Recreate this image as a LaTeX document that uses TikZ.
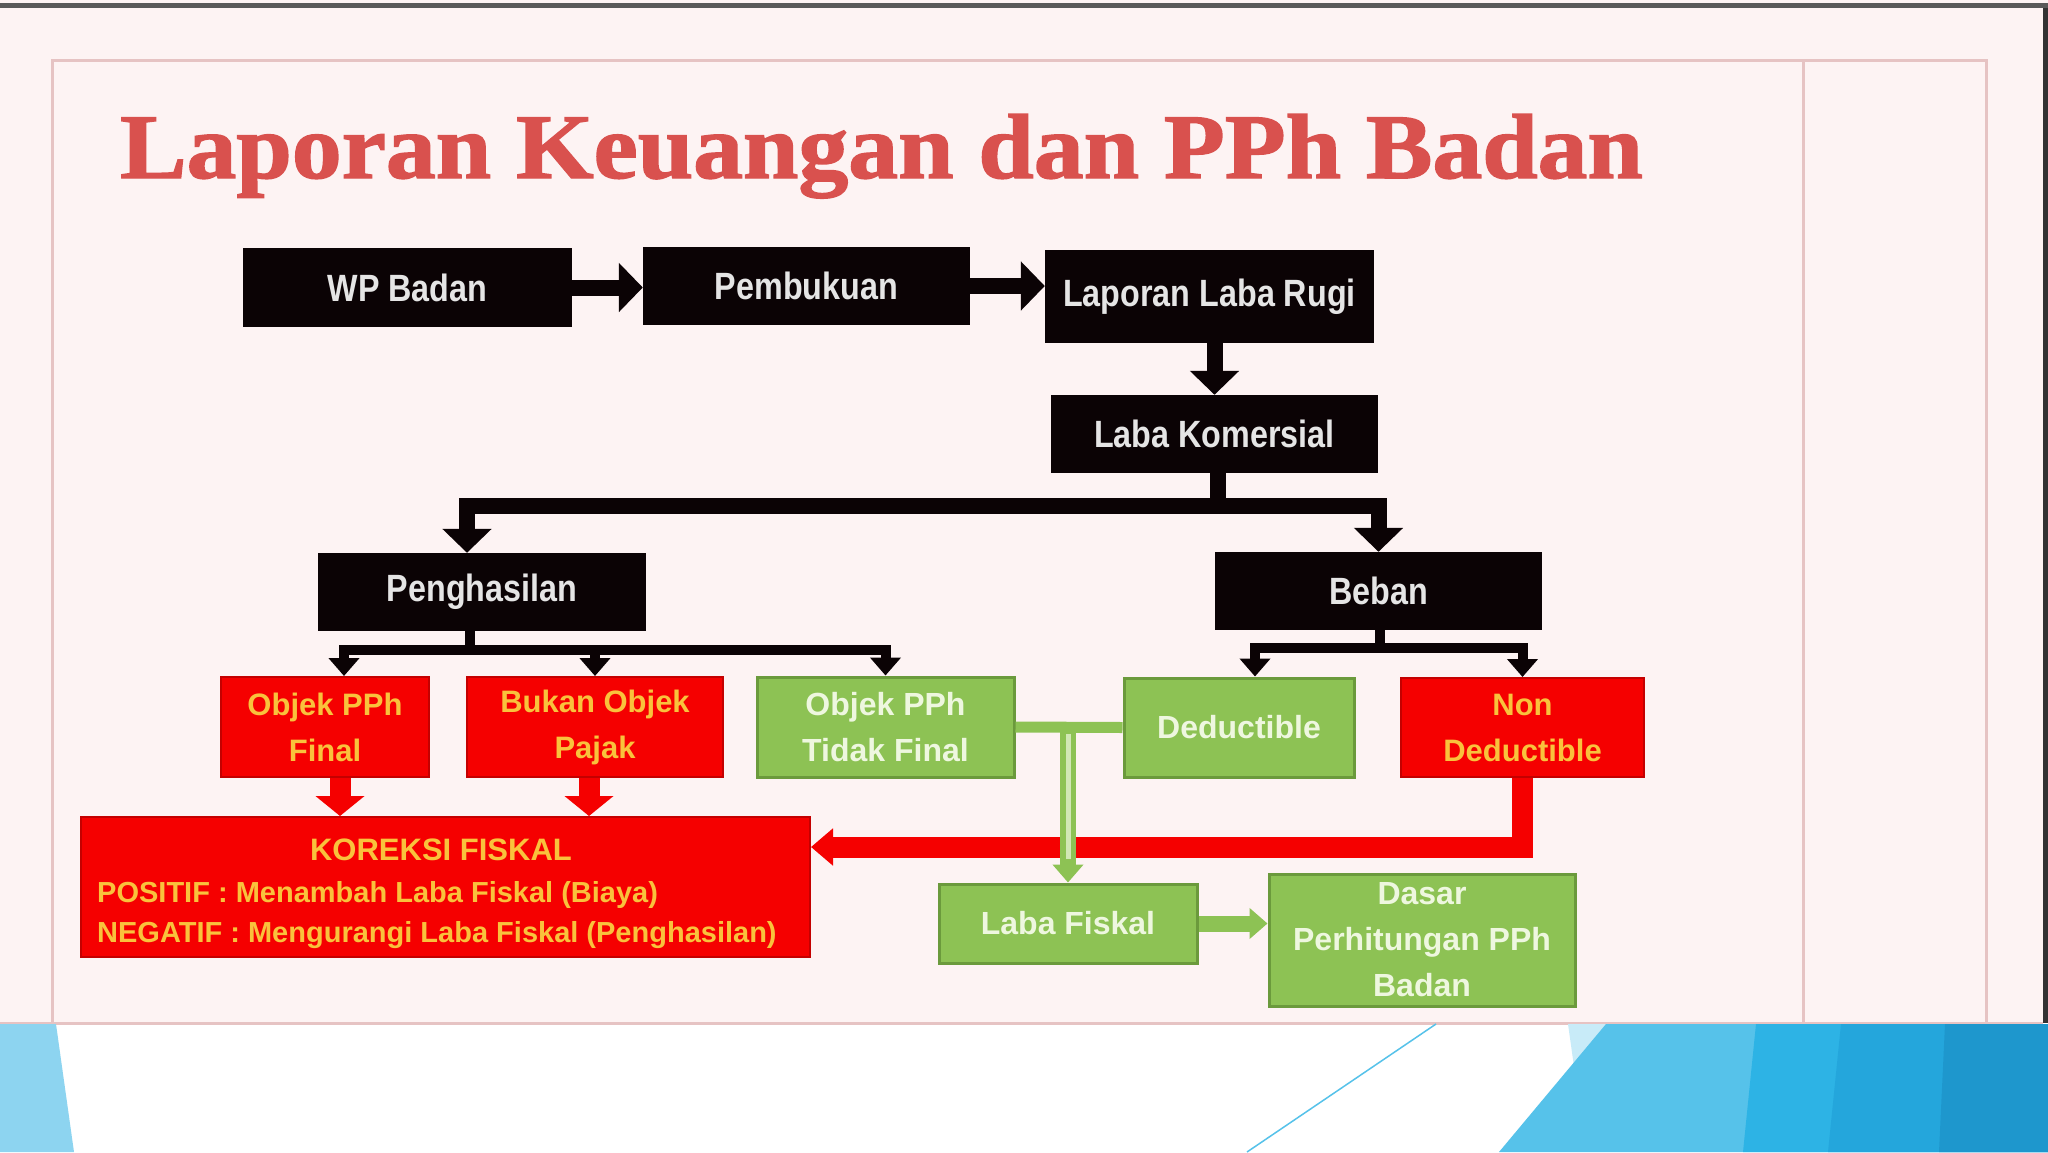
\documentclass[tikz,border=0pt]{standalone}
\usepackage{graphicx}
\usepackage{fontspec}
\setmainfont{Liberation Sans}
\newfontfamily\narrowfont[FakeStretch=0.85]{Liberation Sans}
\newfontfamily\titlefont[FakeBold=1.5]{Liberation Serif}
\usetikzlibrary{arrows.meta,positioning}
\definecolor{pagepink}{HTML}{FDF3F3}
\definecolor{framepink}{HTML}{E6C3C3}
\definecolor{titlered}{HTML}{D9514E}
\definecolor{boxblack}{HTML}{0B0305}
\definecolor{boxred}{HTML}{F50000}
\definecolor{edgered}{HTML}{C40000}
\definecolor{gold}{HTML}{F9C23C}
\definecolor{boxgreen}{HTML}{8DC254}
\definecolor{edgegreen}{HTML}{6B9A3C}
\definecolor{palegreen}{HTML}{EEF7DF}
\definecolor{skylight}{HTML}{8DD4F0}
\definecolor{skypale}{HTML}{C8EBF8}
\definecolor{skymid}{HTML}{56C2EA}
\definecolor{skydeep}{HTML}{2DB3E5}
\definecolor{skydeeper}{HTML}{24A6DC}
\definecolor{skydark}{HTML}{1E97CD}
\begin{document}
\begin{tikzpicture}[x=1pt,y=-1pt,
    blkbox/.style={fill=boxblack, text=white!90!black, inner sep=0pt,
        font=\narrowfont\bfseries\fontsize{38}{44}\selectfont},
    redbox/.style={fill=boxred, draw=edgered, line width=2pt, text=gold, inner sep=0pt,
        align=center, font=\bfseries\fontsize{31}{46}\selectfont},
    grnbox/.style={fill=boxgreen, draw=edgegreen, line width=3pt, text=palegreen, inner sep=0pt,
        align=center, font=\bfseries\fontsize{32}{46}\selectfont},
    blkarr/.style={draw=boxblack, line width=16pt, line join=miter, -{Triangle[width=48pt,length=24pt]}},
    blkthin/.style={draw=boxblack, line width=10pt, line join=miter, -{Triangle[width=30pt,length=18pt]}},
    redarr/.style={draw=boxred, line width=21pt, line join=miter, -{Triangle[width=48pt,length=20pt]}},
    redside/.style={draw=boxred, line width=21pt, line join=miter, -{Triangle[width=36pt,length=22pt]}},
    grnline/.style={draw=boxgreen, line width=11pt},
    grnarr/.style={draw=boxgreen, line width=16pt, -{Triangle[width=30pt,length=18pt]}}]
    \useasboundingbox (0,0) rectangle (2048,1152);
    \fill[pagepink] (0,0) rectangle (2048,1023);
    \fill[white] (0,1023) rectangle (2048,1152);
    \fill[black!65] (0,3) rectangle (2048,8);
    \fill[black!80] (2043,8) rectangle (2048,1023);
    \draw[framepink, line width=3pt] (52,1023) -- (52,60) -- (1986,60) -- (1986,1023);
    \draw[framepink, line width=3pt] (1803,60) -- (1803,1023);
    \draw[framepink, line width=3pt] (0,1023) -- (2043,1023);
    % blue corner shapes
    \fill[skylight] (0,1024) -- (56,1024) -- (74,1152) -- (0,1152) -- cycle;
    \draw[skymid, line width=1.5pt] (1436,1024) -- (1247,1152);
    \fill[skypale] (1568,1024) -- (1606,1024) -- (1578,1095) -- cycle;
    \fill[skymid] (1606,1024) -- (2048,1024) -- (2048,1152) -- (1499,1152) -- cycle;
    \fill[skydeep] (1756,1024) -- (2048,1024) -- (2048,1152) -- (1743,1152) -- cycle;
    \fill[skydeeper] (1841,1024) -- (2048,1024) -- (2048,1152) -- (1828,1152) -- cycle;
    \fill[skydark] (1945,1024) -- (2048,1024) -- (2048,1152) -- (1939,1152) -- cycle;

    \node[anchor=base west, text=titlered, inner sep=0pt] (title) at (120,178)
        {\resizebox{1522pt}{64pt}{\titlefont\bfseries Laporan Keuangan dan PPh Badan}};

    \node[blkbox, minimum width=329pt, minimum height=79pt] (wp) at (407.5,287.5) {WP Badan};
    \node[blkbox, minimum width=327pt, minimum height=78pt] (pemb) at (806.5,286) {Pembukuan};
    \node[blkbox, minimum width=329pt, minimum height=93pt] (llr) at (1209.5,296.5) {Laporan Laba Rugi};
    \node[blkbox, minimum width=327pt, minimum height=78pt] (lk) at (1214.5,434) {Laba Komersial};
    \node[blkbox, minimum width=328pt, minimum height=78pt] (peng) at (482,592) {Penghasilan};
    \node[blkbox, minimum width=327pt, minimum height=78pt] (beban) at (1378.5,591) {Beban};

    \node[redbox, minimum width=208pt, minimum height=100pt] (final) at (325,727) {Objek PPh\\Final};
    \node[redbox, minimum width=256pt, minimum height=100pt] (bukan) at (595,727) {Bukan Objek\\Pajak};
    \node[grnbox, minimum width=257pt, minimum height=100pt] (tidak) at (885.5,727) {Objek PPh\\Tidak Final};
    \node[grnbox, minimum width=230pt, minimum height=99pt] (deduct) at (1239,727.5) {Deductible};
    \node[redbox, minimum width=243pt, minimum height=99pt] (nondeduct) at (1522.5,727.5) {Non\\Deductible};

    \node[redbox, minimum width=729pt, minimum height=140pt] (koreksi) at (445.5,887) {};
    \node[text=gold, font=\bfseries\fontsize{31}{36}\selectfont, anchor=base] (kortitle) at (441,860) {KOREKSI FISKAL};
    \node[text=gold, font=\bfseries\fontsize{29}{34}\selectfont, anchor=base west, inner sep=0pt] (korpos) at (97,902)
        {POSITIF : Menambah Laba Fiskal (Biaya)};
    \node[text=gold, font=\bfseries\fontsize{29}{34}\selectfont, anchor=base west, inner sep=0pt] (korneg) at (97,942)
        {NEGATIF : Mengurangi Laba Fiskal (Penghasilan)};

    \node[grnbox, minimum width=258pt, minimum height=79pt] (lfiskal) at (1068,923.5) {Laba Fiskal};
    \node[grnbox, minimum width=306pt, minimum height=132pt] (dasar) at (1422,940) {Dasar\\Perhitungan PPh\\Badan};

    % black flow
    \draw[blkarr] (wp.east) -- (wp.east -| pemb.west);
    \draw[blkarr] (pemb.east) -- (pemb.east -| llr.west);
    \draw[blkarr] (lk.north |- llr.south) -- (lk.north);
    \coordinate (lkbar) at (1218,506);
    \draw[blkarr] (lk.south -| lkbar) |- ([xshift=-15pt]peng.north |- lkbar) -- ([xshift=-15pt]peng.north);
    \draw[blkarr] (lk.south -| lkbar) |- (beban.north |- lkbar) -- (beban.north);
    \coordinate (pbar) at (470,650);
    \draw[blkthin] (peng.south -| pbar) |- ([xshift=19pt]final.north |- pbar) -- ([xshift=19pt]final.north);
    \draw[blkthin] (pbar) -| (bukan.north);
    \draw[blkthin] (pbar) -| (tidak.north);
    \coordinate (bbar) at (1380,648);
    \draw[blkthin] (beban.south -| bbar) |- ([xshift=16pt]deduct.north |- bbar) -- ([xshift=16pt]deduct.north);
    \draw[blkthin] (bbar) -| (nondeduct.north);

    % red corrections
    \draw[redarr] ([xshift=15pt]final.south) -- ([xshift=15pt]final.south |- koreksi.north);
    \draw[redarr] ([xshift=-6pt]bukan.south) -- ([xshift=-6pt]bukan.south |- koreksi.north);
    \coordinate (rbar) at (1522,847);
    \draw[redside] (nondeduct.south) |- (koreksi.east |- rbar);

    % green to laba fiskal
    \draw[grnline] (tidak.east) -- (deduct.west);
    \coordinate (gjoin) at (1068,727);
    \draw[grnarr] (gjoin) -- (lfiskal.north);
    \draw[palegreen!70!boxgreen, line width=5pt, shorten >=24pt] ([yshift=-7pt]gjoin) -- (lfiskal.north);
    \draw[grnarr] (lfiskal.east) -- (lfiskal.east -| dasar.west);
\end{tikzpicture}
\end{document}
